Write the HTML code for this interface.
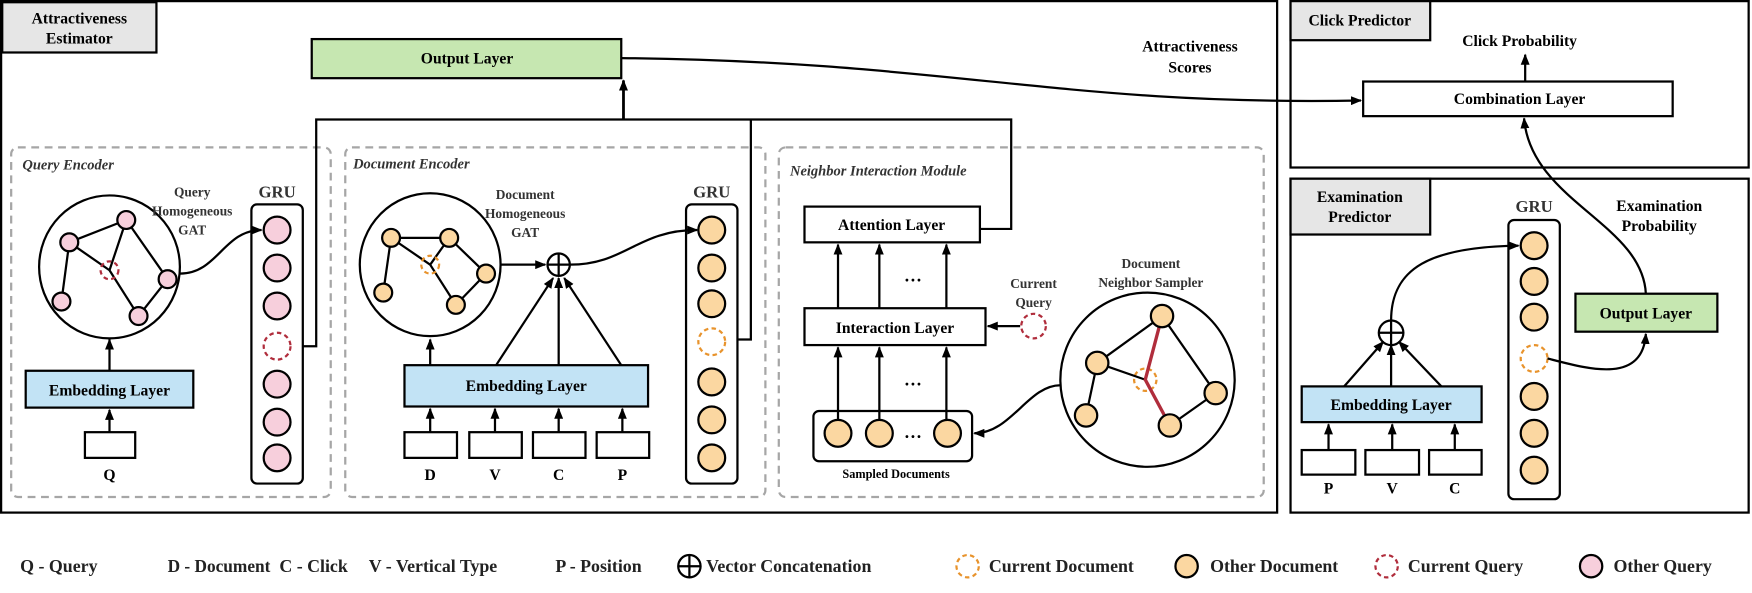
<!DOCTYPE html>
<html><head><meta charset="utf-8"><style>
html,body{margin:0;padding:0;background:#fff;}
svg{display:block;font-family:"Liberation Serif",serif;font-weight:bold;}
</style></head><body>
<svg width="1752" height="593" viewBox="0 0 1568 531" preserveAspectRatio="none" xmlns="http://www.w3.org/2000/svg">
<defs>
<marker id="a" markerWidth="10" markerHeight="8" refX="9" refY="4" orient="auto" markerUnits="userSpaceOnUse"><path d="M0,0 L10,4 L0,8 z" fill="#000"/></marker>
</defs>
<g fill="none" stroke="#000" stroke-width="2">
<rect x="1" y="1" width="1142" height="458"/>
<rect x="1155" y="1" width="410" height="149"/>
<rect x="1155" y="160" width="410" height="299"/>
</g>
<g fill="#e6e6e6" stroke="#000" stroke-width="2">
<rect x="2" y="2" width="138" height="45"/>
<rect x="1155" y="1" width="125" height="35"/>
<rect x="1155" y="160" width="125" height="50"/>
</g>
<g font-size="14" text-anchor="middle" fill="#000">
<text x="71" y="21">Attractiveness</text><text x="71" y="39">Estimator</text>
<text x="1217" y="23">Click Predictor</text>
<text x="1217" y="181">Examination</text><text x="1217" y="199">Predictor</text>
</g>
<g fill="none" stroke="#a6a6a6" stroke-width="2" stroke-dasharray="7,5">
<rect x="10" y="132" width="286" height="313" rx="6"/>
<rect x="309" y="132" width="376" height="313" rx="6"/>
<rect x="697" y="132" width="434" height="313" rx="6"/>
</g>
<g font-size="13" font-style="italic" fill="#333">
<text x="20" y="152">Query Encoder</text>
<text x="316" y="151">Document Encoder</text>
<text x="707" y="157">Neighbor Interaction Module</text>
</g>
<rect x="279" y="35" width="277" height="35" fill="#c6e7b1" stroke="#000" stroke-width="2"/>
<text x="418" y="57" font-size="14" text-anchor="middle">Output Layer</text>
<text x="1065" y="46" font-size="14" text-anchor="middle">Attractiveness</text>
<text x="1065" y="65" font-size="14" text-anchor="middle">Scores</text>
<text x="1360" y="41" font-size="14" text-anchor="middle">Click Probability</text>
<rect x="1220" y="73" width="277" height="31" fill="#fff" stroke="#000" stroke-width="2"/>
<text x="1360" y="93" font-size="14" text-anchor="middle">Combination Layer</text>
<g fill="none" stroke="#000" stroke-width="2">
<path d="M1365,73 V49" marker-end="url(#a)"/>
<path d="M556,52 C850,55 950,95 1218,90" marker-end="url(#a)"/>
<path d="M271,310 H283 V107 H905 V205 H877"/>
<path d="M660,304 H672 V107"/>
<path d="M558,107 V72" marker-end="url(#a)" stroke-width="2.5"/>
</g>
<rect x="23" y="332" width="150" height="33" fill="#c2e3f5" stroke="#000" stroke-width="2"/>
<text x="98" y="354" font-size="14" text-anchor="middle">Embedding Layer</text>
<rect x="76" y="387" width="45" height="23" fill="#fff" stroke="#000" stroke-width="2"/>
<text x="98" y="430" font-size="14" text-anchor="middle">Q</text>
<g fill="none" stroke="#000" stroke-width="2">
<path d="M98,387 V367" marker-end="url(#a)"/>
<path d="M98,332 V304" marker-end="url(#a)"/>
<ellipse cx="98" cy="239" rx="63" ry="64"/>
<path d="M113,197 L62,217 M113,197 L150,250 M113,197 L98,242 M62,217 L98,242 M62,217 L55,270 M98,242 L124,283 M124,283 L150,250"/>
<path d="M161,245 C195,245 200,206 234,206" marker-end="url(#a)"/>
<rect x="225" y="183" width="46" height="250" rx="5"/>
</g>
<g fill="#f7cfdc" stroke="#000" stroke-width="2">
<circle cx="113" cy="197" r="8"/><circle cx="62" cy="217" r="8"/><circle cx="150" cy="250" r="8"/><circle cx="55" cy="270" r="8"/><circle cx="124" cy="283" r="8"/>
<circle cx="248" cy="206" r="12"/><circle cx="248" cy="240" r="12"/><circle cx="248" cy="274" r="12"/><circle cx="248" cy="344" r="12"/><circle cx="248" cy="378" r="12"/><circle cx="248" cy="410" r="12"/>
</g>
<g fill="none" stroke="#b02d3c" stroke-width="2" stroke-dasharray="4,3">
<circle cx="98" cy="242" r="8"/><circle cx="248" cy="310" r="12"/><circle cx="925" cy="292" r="11"/>
</g>
<g font-size="12" text-anchor="middle" fill="#333">
<text x="172" y="176">Query</text><text x="172" y="193">Homogeneous</text><text x="172" y="210">GAT</text>
<text x="470" y="178">Document</text><text x="470" y="195">Homogeneous</text><text x="470" y="212">GAT</text>
<text x="925" y="258">Current</text><text x="925" y="275">Query</text>
<text x="1030" y="240">Document</text><text x="1030" y="257">Neighbor Sampler</text>
</g>
<g font-size="15" text-anchor="middle" fill="#333">
<text x="248" y="177">GRU</text><text x="637" y="177">GRU</text><text x="1373" y="190">GRU</text>
</g>
<rect x="362" y="327" width="218" height="37" fill="#c2e3f5" stroke="#000" stroke-width="2"/>
<text x="471" y="350" font-size="14" text-anchor="middle">Embedding Layer</text>
<g fill="#fff" stroke="#000" stroke-width="2">
<rect x="362" y="387" width="47" height="23"/><rect x="420" y="387" width="47" height="23"/><rect x="477" y="387" width="47" height="23"/><rect x="534" y="387" width="47" height="23"/>
</g>
<g font-size="14" text-anchor="middle"><text x="385" y="430">D</text><text x="443" y="430">V</text><text x="500" y="430">C</text><text x="557" y="430">P</text></g>
<g fill="none" stroke="#000" stroke-width="2">
<path d="M385,387 V366" marker-end="url(#a)"/><path d="M443,387 V366" marker-end="url(#a)"/><path d="M500,387 V366" marker-end="url(#a)"/><path d="M557,387 V366" marker-end="url(#a)"/>
<path d="M385,327 V304" marker-end="url(#a)"/>
<ellipse cx="385" cy="237" rx="63" ry="64"/>
<path d="M402,213 L350,213 M402,213 L385,237 M402,213 L435,245 M350,213 L385,237 M350,213 L343,262 M385,237 L408,273 M408,273 L435,245"/>
<path d="M448,237 H488" marker-end="url(#a)"/>
<circle cx="500" cy="237" r="10"/><path d="M490,237 H510 M500,227 V247"/>
<path d="M444,327 L495,249" marker-end="url(#a)"/><path d="M500,327 V249" marker-end="url(#a)"/><path d="M556,327 L505,249" marker-end="url(#a)"/>
<path d="M510,237 C560,237 570,206 624,206" marker-end="url(#a)"/>
<rect x="614" y="183" width="46" height="250" rx="5"/>
</g>
<g fill="#fbd7a1" stroke="#000" stroke-width="2">
<circle cx="402" cy="213" r="8"/><circle cx="350" cy="213" r="8"/><circle cx="435" cy="245" r="8"/><circle cx="343" cy="262" r="8"/><circle cx="408" cy="273" r="8"/>
<circle cx="637" cy="206" r="12"/><circle cx="637" cy="240" r="12"/><circle cx="637" cy="272" r="12"/><circle cx="637" cy="342" r="12"/><circle cx="637" cy="376" r="12"/><circle cx="637" cy="410" r="12"/>
</g>
<g fill="none" stroke="#e8932c" stroke-width="2" stroke-dasharray="4,3">
<circle cx="385" cy="237" r="8"/><circle cx="637" cy="306" r="12"/><circle cx="1025" cy="340" r="10"/><circle cx="1373" cy="321" r="12"/>
</g>
<g fill="#fff" stroke="#000" stroke-width="2">
<rect x="720" y="185" width="157" height="32"/>
<rect x="720" y="276" width="162" height="33"/>
<rect x="728" y="368" width="142" height="45" rx="5"/>
</g>
<g font-size="14" text-anchor="middle">
<text x="798" y="206">Attention Layer</text>
<text x="801" y="298">Interaction Layer</text>
</g>
<text x="802" y="428" font-size="11" text-anchor="middle">Sampled Documents</text>
<g fill="none" stroke="#000" stroke-width="2">
<path d="M750,276 V219" marker-end="url(#a)"/><path d="M787,276 V219" marker-end="url(#a)"/><path d="M847,276 V219" marker-end="url(#a)"/>
<path d="M750,376 V311" marker-end="url(#a)"/><path d="M787,376 V311" marker-end="url(#a)"/><path d="M847,376 V311" marker-end="url(#a)"/>
<path d="M913,292 H884" marker-end="url(#a)"/>
<circle cx="1027" cy="340" r="78"/>
<path d="M982,325 L1040,283 M982,325 L1025,340 M982,325 L972,372 M1040,283 L1088,352 M1088,352 L1047,381"/>
<path d="M949,345 C920,345 905,388 872,388" marker-end="url(#a)"/>
</g>
<path d="M1040,283 L1025,340 L1047,381" fill="none" stroke="#b02d3c" stroke-width="3"/>
<g fill="#fbd7a1" stroke="#000" stroke-width="2">
<circle cx="750" cy="388" r="12"/><circle cx="787" cy="388" r="12"/><circle cx="848" cy="388" r="12"/>
<circle cx="1040" cy="283" r="10"/><circle cx="982" cy="325" r="10"/><circle cx="1088" cy="352" r="10"/><circle cx="972" cy="372" r="10"/><circle cx="1047" cy="381" r="10"/>
</g>
<g font-size="16" text-anchor="middle"><text x="817" y="252">…</text><text x="817" y="345">…</text><text x="817" y="392">…</text></g>
<text x="1485" y="189" font-size="14" text-anchor="middle">Examination</text>
<text x="1485" y="207" font-size="14" text-anchor="middle">Probability</text>
<rect x="1410" y="263" width="127" height="34" fill="#c6e7b1" stroke="#000" stroke-width="2"/>
<text x="1473" y="285" font-size="14" text-anchor="middle">Output Layer</text>
<rect x="1165" y="346" width="161" height="32" fill="#c2e3f5" stroke="#000" stroke-width="2"/>
<text x="1245" y="367" font-size="14" text-anchor="middle">Embedding Layer</text>
<g fill="#fff" stroke="#000" stroke-width="2">
<rect x="1165" y="403" width="48" height="22"/><rect x="1222" y="403" width="48" height="22"/><rect x="1279" y="403" width="47" height="22"/>
</g>
<g font-size="14" text-anchor="middle"><text x="1189" y="442">P</text><text x="1246" y="442">V</text><text x="1302" y="442">C</text></g>
<g fill="none" stroke="#000" stroke-width="2">
<path d="M1189,403 V380" marker-end="url(#a)"/><path d="M1246,403 V380" marker-end="url(#a)"/><path d="M1302,403 V380" marker-end="url(#a)"/>
<path d="M1203,346 L1238,306" marker-end="url(#a)"/><path d="M1245,346 V309" marker-end="url(#a)"/><path d="M1290,346 L1252,306" marker-end="url(#a)"/>
<circle cx="1245" cy="298" r="11"/><path d="M1234,298 H1256 M1245,287 V309"/>
<path d="M1245,287 C1245,240 1280,221 1359,220" marker-end="url(#a)"/>
<rect x="1350" y="197" width="46" height="250" rx="5"/>
<path d="M1385,321 C1420,330 1470,345 1473,299" marker-end="url(#a)"/>
<path d="M1473,263 C1470,200 1370,180 1364,106" marker-end="url(#a)"/>
</g>
<g fill="#fbd7a1" stroke="#000" stroke-width="2">
<circle cx="1373" cy="220" r="12"/><circle cx="1373" cy="252" r="12"/><circle cx="1373" cy="284" r="12"/><circle cx="1373" cy="355" r="12"/><circle cx="1373" cy="388" r="12"/><circle cx="1373" cy="421" r="12"/>
</g>
<g font-size="16" fill="#222">
<text x="18" y="512">Q - Query</text>
<text x="150" y="512" textLength="92" lengthAdjust="spacingAndGlyphs">D - Document</text>
<text x="250" y="512">C - Click</text>
<text x="330" y="512">V - Vertical Type</text>
<text x="497" y="512">P - Position</text>
<text x="632" y="512">Vector Concatenation</text>
<text x="885" y="512">Current Document</text>
<text x="1083" y="512">Other Document</text>
<text x="1260" y="512">Current Query</text>
<text x="1444" y="512">Other Query</text>
</g>
<g fill="none" stroke="#000" stroke-width="2">
<circle cx="617" cy="507" r="10"/><path d="M607,507 H627 M617,497 V517"/>
</g>
<circle cx="866" cy="507" r="10" fill="none" stroke="#e8932c" stroke-width="2" stroke-dasharray="4,3"/>
<circle cx="1062" cy="507" r="10" fill="#fbd7a1" stroke="#000" stroke-width="2"/>
<circle cx="1241" cy="507" r="10" fill="none" stroke="#b02d3c" stroke-width="2" stroke-dasharray="4,3"/>
<circle cx="1424" cy="507" r="10" fill="#f7cfdc" stroke="#000" stroke-width="2"/>
</svg>
</body></html>
